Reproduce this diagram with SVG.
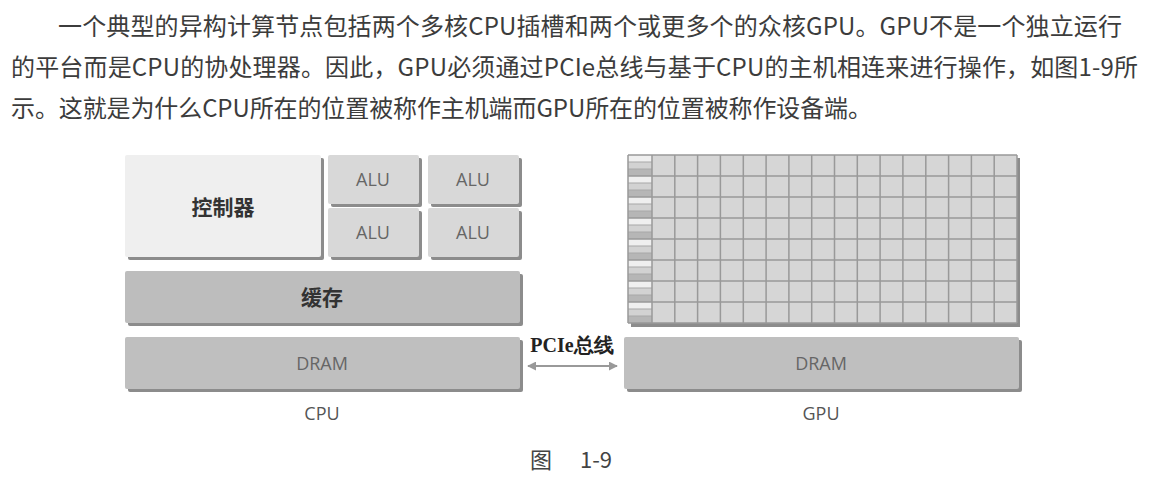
<svg xmlns="http://www.w3.org/2000/svg" width="1168" height="493" viewBox="0 0 1168 493">
<style>
.para{font-family:"Noto Sans CJK SC","Microsoft YaHei",sans-serif;font-size:24px;fill:#3c3c3c}
.lbl{font-family:"Open Sans","Noto Sans",sans-serif;font-size:18px;fill:#666;text-anchor:middle}
.cjkb{font-family:"Noto Sans CJK SC",sans-serif;font-size:21px;font-weight:bold;fill:#333;text-anchor:middle}
.shadow{fill:#8c8c8c}
.grid{stroke:#999;stroke-width:1.5;fill:none}
.axis{font-family:"Open Sans","Noto Sans",sans-serif;font-size:18px;fill:#555;text-anchor:middle}
</style>
<defs>
<pattern id="strip" x="628" y="155" width="24" height="21" patternUnits="userSpaceOnUse">
<rect x="0" y="0" width="24" height="7" fill="#efefef"/>
<rect x="0" y="7" width="24" height="7" fill="#d2d2d2"/>
<rect x="0" y="14" width="24" height="7" fill="#b6b6b6"/>
<line x1="0" y1="7" x2="24" y2="7" stroke="#a8a8a8" stroke-width="1"/>
<line x1="0" y1="14" x2="24" y2="14" stroke="#a8a8a8" stroke-width="1"/>
</pattern>
<marker id="ah" viewBox="0 0 10 10" refX="9" refY="5" markerWidth="9" markerHeight="9" markerUnits="userSpaceOnUse" orient="auto-start-reverse">
<path d="M0,0 L10,5 L0,10 z" fill="#999"/>
</marker>
</defs>
<rect width="1168" height="493" fill="#fff"/>
<g id="paragraph">
<text class="para" x="58" y="35" textLength="1064" lengthAdjust="spacing">一个典型的异构计算节点包括两个多核CPU插槽和两个或更多个的众核GPU。GPU不是一个独立运行</text>
<text class="para" x="11" y="76" textLength="1127" lengthAdjust="spacing">的平台而是CPU的协处理器。因此，GPU必须通过PCIe总线与基于CPU的主机相连来进行操作，如图1-9所</text>
<text class="para" x="11" y="117" textLength="861" lengthAdjust="spacing">示。这就是为什么CPU所在的位置被称作主机端而GPU所在的位置被称作设备端。</text>
</g>
<g id="controller">
<rect class="shadow" x="128" y="158" width="196" height="102" rx="2"/>
<rect x="125" y="155" width="196" height="102" rx="2" fill="#efefef"/>
<text class="cjkb" x="223" y="215">控制器</text>
</g>
<g id="alu1">
<rect class="shadow" x="331" y="158" width="91" height="49" rx="2"/>
<rect x="328" y="155" width="91" height="49" rx="2" fill="#d8d8d8"/>
<text class="lbl" x="373" y="186">ALU</text>
</g>
<g id="alu2">
<rect class="shadow" x="431" y="158" width="91" height="49" rx="2"/>
<rect x="428" y="155" width="91" height="49" rx="2" fill="#d8d8d8"/>
<text class="lbl" x="473" y="186">ALU</text>
</g>
<g id="alu3">
<rect class="shadow" x="331" y="211" width="91" height="49" rx="2"/>
<rect x="328" y="208" width="91" height="49" rx="2" fill="#d8d8d8"/>
<text class="lbl" x="373" y="239">ALU</text>
</g>
<g id="alu4">
<rect class="shadow" x="431" y="211" width="91" height="49" rx="2"/>
<rect x="428" y="208" width="91" height="49" rx="2" fill="#d8d8d8"/>
<text class="lbl" x="473" y="239">ALU</text>
</g>
<g id="cache">
<rect class="shadow" x="128" y="274" width="395" height="52" rx="2"/>
<rect x="125" y="271" width="395" height="52" rx="2" fill="#bdbdbd"/>
<text class="cjkb" x="322" y="305">缓存</text>
</g>
<g id="cpu-dram">
<rect class="shadow" x="128" y="340" width="395" height="52" rx="2"/>
<rect x="125" y="337" width="395" height="52" rx="2" fill="#bfbfbf"/>
<text class="lbl" x="322" y="370">DRAM</text>
</g>
<g id="gpu-cores">
<rect class="shadow" x="631" y="158" width="389" height="169"/>
<rect x="628" y="155" width="389" height="168" fill="#d6d6d6"/>
<rect x="628" y="155" width="24" height="168" fill="url(#strip)"/>
<path class="grid" d="M628,155V323M652,155V323M674.8,155V323M697.6,155V323M720.4,155V323M743.3,155V323M766.1,155V323M788.9,155V323M811.7,155V323M834.5,155V323M857.3,155V323M880.1,155V323M902.9,155V323M925.8,155V323M948.6,155V323M971.4,155V323M994.2,155V323M1017,155V323M628,155H1017M628,176H1017M628,197H1017M628,218H1017M628,239H1017M628,260H1017M628,281H1017M628,302H1017M628,323H1017"/>
</g>
<g id="gpu-dram">
<rect class="shadow" x="627" y="340" width="395" height="52" rx="2"/>
<rect x="624" y="337" width="395" height="52" rx="2" fill="#bfbfbf"/>
<text class="lbl" x="821" y="370">DRAM</text>
</g>
<g id="connectors">
<line x1="528" y1="366" x2="617" y2="366" stroke="#999" stroke-width="2" marker-start="url(#ah)" marker-end="url(#ah)"/>
<text x="572" y="352" font-family="Liberation Serif,serif" font-weight="bold" font-size="20" fill="#222" text-anchor="middle">PCIe总线</text>
</g>
<g id="labels">
<text class="axis" x="322" y="420">CPU</text>
<text class="axis" x="821" y="420">GPU</text>
<text x="530" y="468" font-family="Noto Sans CJK SC,sans-serif" font-size="22" fill="#444">图</text>
<text x="580" y="468" font-family="Noto Sans CJK SC,sans-serif" font-size="22" fill="#444">1-9</text>
</g>
</svg>
